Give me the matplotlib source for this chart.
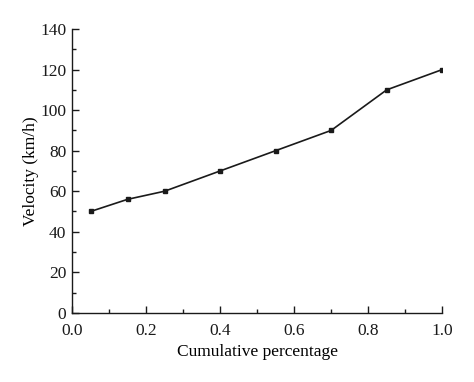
import matplotlib
matplotlib.use("Agg")
import matplotlib.pyplot as plt
from matplotlib.ticker import MultipleLocator

# data
cumulative = [0.05, 0.15, 0.25, 0.40, 0.55, 0.70, 0.85, 1.00]
velocity = [50, 56, 60, 70, 80, 90, 110, 120]

plt.rcParams['font.family'] = ['Liberation Serif', 'DejaVu Serif']

fig = plt.figure(figsize=(4.74, 3.82), dpi=100)
ax = fig.add_axes([0.152, 0.181, 0.781, 0.743])

ax.plot(cumulative, velocity, color="#1a1a1a", lw=1.2, marker="s", ms=3.5)

ax.set_xlim(0, 1.0)
ax.set_ylim(0, 140)
ax.xaxis.set_major_locator(MultipleLocator(0.2))
ax.xaxis.set_minor_locator(MultipleLocator(0.1))
ax.yaxis.set_major_locator(MultipleLocator(20))
ax.yaxis.set_minor_locator(MultipleLocator(10))
ax.xaxis.set_major_formatter(plt.FuncFormatter(lambda v, p: f"{v:.1f}"))

for s in ["top", "right"]:
    ax.spines[s].set_visible(False)
for s in ["left", "bottom"]:
    ax.spines[s].set_linewidth(1.0)
    ax.spines[s].set_color("#1a1a1a")

# ticks point into the plot in the reference
ax.tick_params(which="major", direction="in", length=5, width=1, labelsize=12.5, colors="#1a1a1a")
ax.tick_params(which="minor", direction="in", length=3, width=1, colors="#1a1a1a")
ax.tick_params(axis="x", which="major", pad=7)
ax.tick_params(axis="y", which="major", pad=4)

ax.set_xlabel("Cumulative percentage", fontsize=12.5, labelpad=4)
ax.set_ylabel("Velocity (km/h)", fontsize=12.5, labelpad=1)

fig.savefig("out.png", dpi=100)
